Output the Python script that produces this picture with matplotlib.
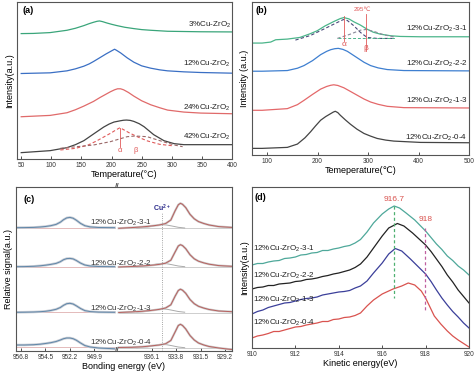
import numpy as np
import matplotlib
matplotlib.use('Agg')
import matplotlib.pyplot as plt
from matplotlib.transforms import blended_transform_factory

plt.rcParams['font.family'] = ['Liberation Sans', 'DejaVu Sans']
plt.rcParams['mathtext.default'] = 'regular'
plt.rcParams['axes.linewidth'] = 0.8
plt.rcParams['axes.edgecolor'] = '#555555'

# ---------------- Panel (a) : H2-TPR ----------------
a_T_3 = [50, 70, 98, 126, 140, 154, 163, 170, 176, 180, 185, 192, 200, 209, 222, 237, 250, 265, 293, 348, 400]
a_I_3 = [378, 378.5, 381, 388, 394, 402, 408, 412, 415, 416, 414, 410, 406, 402, 397, 393, 390, 388, 385, 383.5, 383]
a_T_12 = [50, 98, 126, 140, 154, 163, 170, 181, 191, 198, 203, 205, 208, 215, 226, 237, 250, 265, 280, 293, 320, 348, 400]
a_I_12 = [258, 260, 266, 272, 280, 287, 294, 306, 317, 324, 329, 331, 328, 320, 305, 292, 281, 274, 269, 266, 263, 261, 259]
a_T_24 = [50, 98, 126, 140, 154, 170, 181, 190, 198, 205, 210, 215, 220, 228, 237, 250, 265, 280, 293, 320, 348, 400]
a_I_24 = [128, 132, 140, 149, 160, 174, 186, 195, 203, 209, 212, 212, 209, 201, 190, 176, 164, 155, 148, 142, 139, 137]
a_T_42 = [50, 98, 126, 140, 154, 170, 187, 196, 204, 215, 220, 225, 231, 237, 246, 254, 262, 270, 287, 304, 320, 400]
a_I_42 = [20, 26, 35, 44, 56, 76, 97, 106, 112, 116, 117.5, 118, 117, 114, 107, 98, 86, 74, 56, 47, 44, 44]
a_alpha_T = [115, 140, 160, 175, 190, 200, 207, 214, 220, 230, 245, 260, 280, 300]
a_alpha_I = [28, 33, 42, 55, 70, 80, 88, 95, 89, 79, 66, 55, 45, 41]
a_beta_T = [115, 170, 198, 226, 239, 259, 282, 304, 318]
a_beta_I = [33, 43, 53, 68, 70, 68, 55, 43, 38]
a_labels = ['3%Cu-ZrO$_2$', '12%Cu-ZrO$_2$', '24%Cu-ZrO$_2$', '42%Cu-ZrO$_2$']
a_label_I = [403, 288, 156, 68]
a_xticks = [50, 100, 150, 200, 250, 300, 350, 400]

# ---------------- Panel (b) ----------------
b_T_31 = [72, 90, 107, 117, 140, 165, 185, 199, 215, 232, 245, 252, 262, 272, 284, 298, 310, 324, 345, 364, 404, 500]
b_I_31 = [338, 338, 341, 348, 350, 355, 366, 375, 390, 403, 412, 415, 411, 402, 393, 380, 371, 365, 360, 358, 357, 357]
b_T_22 = [72, 90, 140, 160, 173, 190, 206, 218, 226, 234, 241, 250, 259, 279, 292, 305, 320, 338, 371, 500]
b_I_22 = [253, 253, 255, 262, 270, 285, 303, 313, 318, 321, 322, 319, 313, 293, 280, 270, 263, 258, 255, 254]
b_T_13 = [72, 90, 140, 160, 173, 190, 206, 218, 226, 232, 240, 252, 265, 279, 292, 305, 320, 338, 371, 500]
b_I_13 = [135, 135, 140, 152, 165, 183, 199, 207, 210.5, 212, 210, 203, 192, 180, 169, 160, 153, 147, 143, 142]
b_T_04 = [72, 90, 140, 160, 175, 186, 196, 206, 216, 226, 231, 235, 240, 245, 255, 265, 278, 292, 305, 318, 335, 351, 404, 500]
b_I_04 = [20, 20, 23, 33, 52, 70, 88, 105, 116, 125, 129.5, 132, 128, 120, 106, 93, 78, 65, 57, 50, 45, 42, 38, 37]
b_alpha_T = [156, 186, 212, 232, 251, 259, 272, 285, 298, 318, 351]
b_alpha_I = [347, 361, 380, 395, 409, 406, 390, 370, 355, 352, 352]
b_beta_T = [239, 265, 285, 296, 312, 331, 351]
b_beta_I = [352, 365, 377, 379, 373, 363, 357]
b_base_T = [240, 355]
b_base_I = [352, 352]
b_labels = ['12%Cu-ZrO$_2$-3-1', '12%Cu-ZrO$_2$-2-2', '12%Cu-ZrO$_2$-1-3', '12%Cu-ZrO$_2$-0-4']
b_label_I = [380, 275, 162, 52]
b_xticks = [100, 200, 300, 400, 500]

# ---------------- Panel (c) : XPS Cu 2p ----------------
c_left_E = [957.3, 956.5, 955.6, 955.0, 954.5, 954.0, 953.5, 953.1, 952.8, 952.5, 952.2,
            951.9, 951.6, 951.2, 950.8, 950.3, 949.5, 948.0]
c_left_vals = [
    [0, 0.1, 0.3, 0.7, 1.2, 2.0, 3.3, 5.5, 8.0, 9.8, 10.3, 9.5, 7.5, 4.3, 2.0, 0.8, 0.2, 0],
    [0, 0.1, 0.4, 0.9, 1.5, 2.3, 3.3, 5.0, 7.0, 8.1, 8.3, 7.8, 6.2, 3.6, 1.7, 0.7, 0.2, 0],
    [0, 0.1, 0.3, 0.6, 1.0, 1.8, 3.0, 4.8, 7.0, 8.6, 9.0, 8.3, 6.5, 3.8, 1.7, 0.7, 0.2, 0],
    [2, 2, 2.3, 2.8, 3.5, 4.3, 5.5, 7.0, 8.3, 9.0, 9.0, 8.3, 6.8, 4.0, 1.5, 0, -1.0, -1.8],
]
c_right_E = [939.2, 938.0, 937.0, 936.4, 935.9, 935.4, 934.8, 934.3, 933.9, 933.6, 933.4,
             933.2, 932.9, 932.5, 932.1, 931.7, 931.2, 930.7, 929.8, 928.6]
c_right_vals = [
    [0, 0.7, 1.4, 2.0, 2.6, 3.3, 4.7, 8.3, 17.5, 23.5, 25, 24, 20.7, 14, 9.5, 6.7, 4.8, 3.3, 1.7, 0.9],
    [0, 0.5, 1.0, 1.5, 2.0, 2.6, 3.8, 6.8, 15, 21, 22.3, 21.4, 18.3, 12.3, 8.2, 5.8, 4.1, 2.8, 1.4, 0.7],
    [0, 0.6, 1.2, 1.8, 2.4, 3.1, 4.5, 7.7, 16.3, 22, 23.3, 22.3, 19.2, 13, 8.8, 6.2, 4.4, 3.0, 1.5, 0.8],
    [0.5, 0.7, 1.2, 1.8, 2.4, 3.0, 4.2, 7.5, 16, 22.5, 23.7, 22.5, 19, 12.5, 8, 5, 3, 1.5, 0, -1.5],
]
c_sh_E = [937.5, 936.5, 936.0, 935.5, 935.1, 934.7, 934.2, 933.6, 933.0]
c_sh_vals = [0.3, 1.2, 2.2, 3.2, 3.6, 3.3, 2.3, 1.0, 0.3]
c_off_left = [123.3, 84.3, 38.7, 4]
c_off_right = [122.7, 84.0, 38.5, 3]
c_labels = ['12%Cu-ZrO$_2$-3-1', '12%Cu-ZrO$_2$-2-2', '12%Cu-ZrO$_2$-1-3', '12%Cu-ZrO$_2$-0-4']
c_label_I = [127.7, 87.3, 41.7, 8.3]
c_xticks = [956.8, 954.5, 952.2, 949.9, 936.1, 933.8, 931.5, 929.2]
c_cu2_E = 935.13

# ---------------- Panel (d) : Auger ----------------
d_E_31 = [910.0, 910.25, 910.5, 910.75, 911.0, 911.25, 911.5, 911.75, 912.0, 912.25, 912.5,
          912.75, 913.0, 913.25, 913.5, 913.75, 914.0, 914.25, 914.5, 914.75, 915.0, 915.3,
          915.6, 916.0, 916.3, 916.55, 916.8, 917.1, 917.5, 918.0, 918.25, 918.5, 918.75,
          919.0, 919.25, 919.5, 919.75, 920.0]
d_I_31 = [83, 84.5, 84.5, 86, 87, 87.5, 89.5, 90, 91, 93, 93.5, 95, 95.5, 97.5, 97.5, 99,
          100, 101.5, 102.5, 105, 108.5, 116, 125, 134, 139, 142, 140, 135, 128, 117, 110.5,
          104, 98.5, 92, 87.5, 82, 78, 73]
d_E_22 = [910.0, 910.25, 910.5, 910.75, 911.0, 911.25, 911.5, 911.75, 912.0, 912.25, 912.5,
          912.75, 913.0, 913.25, 913.5, 913.75, 914.0, 914.25, 914.5, 914.75, 915.0, 915.3,
          915.6, 916.0, 916.3, 916.7, 917.0, 917.4, 918.0, 918.25, 918.5, 918.75, 919.0,
          919.25, 919.5, 919.75, 920.0]
d_I_22 = [59, 60.5, 61, 62.5, 62.5, 64, 64.5, 65, 66.5, 67, 68.5, 69, 70, 71.5, 72.5, 74,
          75, 76.5, 78, 80.5, 84, 91, 100, 112, 120, 124.5, 122, 115, 103, 96.5, 89, 81.5,
          73, 66, 58, 51.5, 45]
d_E_13 = [910.0, 910.25, 910.5, 910.75, 911.0, 911.25, 911.5, 911.75, 912.0, 912.25, 912.5,
          912.75, 913.0, 913.25, 913.5, 913.75, 914.0, 914.25, 914.5, 914.75, 915.0, 915.3,
          915.6, 916.0, 916.3, 916.6, 916.9, 917.3, 918.0, 918.25, 918.5, 918.75, 919.0,
          919.25, 919.5, 919.75, 920.0]
d_I_13 = [34, 36.5, 38, 40.5, 42, 43.5, 45, 45.5, 47, 48.5, 49.5, 50, 51, 53, 54, 55, 56,
          56.5, 57.5, 60, 62, 67, 75, 85, 94, 99.5, 97, 89, 74, 66.5, 58, 50, 43, 36.5, 31,
          25, 20]
d_E_04 = [910.0, 910.25, 910.5, 910.75, 911.0, 911.25, 911.5, 911.75, 912.0, 912.25, 912.5,
          912.75, 913.0, 913.25, 913.5, 913.75, 914.0, 914.25, 914.5, 914.75, 915.0, 915.3,
          915.6, 916.0, 916.5, 916.9, 917.2, 917.5, 917.8, 918.0, 918.2, 918.4, 918.7, 919.0,
          919.25, 919.5, 919.75, 920.0]
d_I_04 = [10, 12, 13, 14.5, 16.5, 16.5, 18, 19.5, 21, 21.5, 23, 24, 25, 26.5, 26.5, 28.5,
          29, 30.5, 31, 32.5, 35, 42, 48, 54, 59, 62, 65, 63, 57, 50, 41, 32, 24, 17, 12,
          8, 4.5, 1]
d_labels = ['12%Cu-ZrO$_2$-3-1', '12%Cu-ZrO$_2$-2-2', '12%Cu-ZrO$_2$-1-3', '12%Cu-ZrO$_2$-0-4']
d_label_I = [99, 72, 48, 25]
d_xticks = [910, 912, 914, 916, 918, 920]
d_line1_E = 916.55
d_line2_E = 917.98

# ------------------------------------------------------------
fig = plt.figure(figsize=(4.74, 3.71), dpi=100)
W, H = 474.0, 371.0


def box(l, r, t, b):
    return [l / W, 1 - b / H, (r - l) / W, (b - t) / H]


TICKFS = 4.7
LABFS = 6.5
TXTFS = 5.8


def style(ax):
    ax.tick_params(axis='x', direction='in', length=2, width=0.6, pad=2,
                   labelsize=TICKFS, colors='#333333')
    ax.set_yticks([])
    for s in ax.spines.values():
        s.set_color('#555555')
        s.set_linewidth(0.8)


# ---- (a)
axa = fig.add_axes(box(17, 232, 2, 159.3))
axa.plot(a_T_3, a_I_3, color='#3aa57a', lw=0.9)
axa.plot(a_T_12, a_I_12, color='#3a6fc4', lw=0.9)
axa.plot(a_T_24, a_I_24, color='#e06a6a', lw=0.9)
axa.plot(a_T_42, a_I_42, color='#444444', lw=0.9)
axa.plot(a_alpha_T, a_alpha_I, color='#e05a5a', lw=0.8, ls=(0, (3, 2)))
axa.plot(a_beta_T, a_beta_I, color='#9a6868', lw=0.8, ls=(0, (3, 2)))
axa.plot([214, 214], [95, 38], color='#e05a5a', lw=0.6)
axa.text(214, 25, 'α', color='#e05a5a', fontsize=5.5, ha='center', va='center')
axa.text(240, 25, 'β', color='#e05a5a', fontsize=5.5, ha='center', va='center')
for lab, yy in zip(a_labels, a_label_I):
    axa.text(398, yy, lab, fontsize=TXTFS, ha='right', va='center', color='#222222')
axa.text(52, 448, '(a)', fontsize=6.5, fontweight='bold', va='center')
axa.set_xlim(43, 400)
axa.set_ylim(0, 473)
axa.set_xticks(a_xticks)
axa.set_xlabel('Temperature(°C)', fontsize=LABFS, labelpad=1)
axa.set_ylabel('Intensity(a.u.)', fontsize=LABFS, labelpad=2)
style(axa)

# ---- (b)
axb = fig.add_axes(box(252, 469, 2, 155))
axb.plot(b_T_31, b_I_31, color='#4bb58a', lw=0.9)
axb.plot(b_T_22, b_I_22, color='#3e7fd0', lw=0.9)
axb.plot(b_T_13, b_I_13, color='#e4686a', lw=0.9)
axb.plot(b_T_04, b_I_04, color='#444444', lw=0.9)
axb.plot(b_alpha_T, b_alpha_I, color='#4a4a7a', lw=0.8, ls=(0, (3, 2)))
axb.plot(b_beta_T, b_beta_I, color='#8a8a9a', lw=0.8, ls=(0, (3, 2)))
axb.plot(b_base_T, b_base_I, color='#4bb58a', lw=0.7, ls=(0, (3, 2)))
axb.plot([253, 253], [420, 345], color='#e05a5a', lw=0.6)
axb.plot([296, 296], [425, 315], color='#e05a5a', lw=0.6)
axb.text(253, 335, 'α', color='#e05a5a', fontsize=6, ha='center', va='center')
axb.text(296, 322, 'β', color='#e05a5a', fontsize=6, ha='center', va='center')
axb.text(288, 440, '295℃', color='#e05a5a', fontsize=4.5, ha='center', va='center')
for lab, yy in zip(b_labels, b_label_I):
    axb.text(497, yy, lab, fontsize=TXTFS, ha='right', va='center', color='#222222')
axb.text(77, 435, '(b)', fontsize=6.5, fontweight='bold', va='center')
axb.set_xlim(70, 500)
axb.set_ylim(0, 462)
axb.set_xticks(b_xticks)
axb.set_xlabel('Temeperature(℃)', fontsize=LABFS, labelpad=1)
axb.set_ylabel('Intensity (a.u.)', fontsize=LABFS, labelpad=2)
style(axb)

# ---- (c) broken energy axis via a function scale
B1, B2, EPS = 939.5, 947.92, 1e-3


def fwd(e):
    e = np.asarray(e, dtype=float)
    return np.where(e <= B1, e,
                    np.where(e < B2, B1 + (e - B1) * EPS,
                             B1 + (B2 - B1) * EPS + (e - B2)))


def inv(u):
    u = np.asarray(u, dtype=float)
    g = B1 + (B2 - B1) * EPS
    return np.where(u <= B1, u,
                    np.where(u < g, B1 + (u - B1) / EPS, B2 + (u - g)))


axc = fig.add_axes(box(16, 232, 187, 351))
axc.set_xscale('function', functions=(fwd, inv))
for i in range(4):
    lv = np.array(c_left_vals[i]) + c_off_left[i]
    rv = np.array(c_right_vals[i]) + c_off_right[i]
    sv = np.array(c_sh_vals) + c_off_right[i]
    axc.plot([c_left_E[0], c_left_E[-1]], [c_off_left[i], c_off_left[i]], color='#d9a0a0', lw=0.5)
    axc.plot([c_right_E[0], c_right_E[-1]], [c_off_right[i], c_off_right[i]], color='#bbbbbb', lw=0.5)
    axc.plot(c_left_E, lv, color='#c8ccd4', lw=1.8)
    axc.plot(c_left_E, lv, color='#5f86a8', lw=0.7)
    axc.plot(c_sh_E, sv, color='#aaaaaa', lw=0.7)
    axc.plot(c_right_E, rv, color='#c9c9c9', lw=1.6)
    axc.plot(c_right_E, rv, color='#b8605e', lw=0.7)
trc = blended_transform_factory(axc.transAxes, axc.transData)
for lab, yy in zip(c_labels, c_label_I):
    axc.text(0.485, yy, lab, transform=trc, fontsize=TXTFS, ha='center', va='center',
             color='#333333')
axc.plot([c_cu2_E, c_cu2_E], [0, 137.7], color='#888888', lw=0.6, ls=':')
axc.text(c_cu2_E, 143, 'Cu$^{2+}$', color='#2a2a8a', fontsize=5, ha='center', va='center',
         fontweight='bold')
axc.text(956.6, 151, '(c)', fontsize=6.5, fontweight='bold', va='center')
for yy in (1.0, 0.0):
    axc.text(0.468, yy, '//', transform=axc.transAxes, fontsize=6, ha='center', va='center',
             color='#555555', fontweight='bold')
axc.set_xlim(957.27, 928.55)
axc.set_ylim(0, 164)
axc.set_xticks(c_xticks)
axc.set_xticklabels([f'{v:.1f}' for v in c_xticks])
axc.set_xlabel('Bonding energy (eV)', fontsize=LABFS, labelpad=1)
axc.set_ylabel('Relative signal(a.u.)', fontsize=LABFS, labelpad=2)
style(axc)

# ---- (d)
axd = fig.add_axes(box(252, 469, 187, 348))
axd.plot(d_E_31, d_I_31, color='#4ea89a', lw=0.9)
axd.plot(d_E_22, d_I_22, color='#222222', lw=0.9)
axd.plot(d_E_13, d_I_13, color='#3b3f9a', lw=0.9)
axd.plot(d_E_04, d_I_04, color='#d9534f', lw=0.9)
axd.plot([d_line1_E, d_line1_E], [142, 50], color='#4eb070', lw=0.9, ls=(0, (2.5, 2)))
axd.plot([d_line2_E, d_line2_E], [120, 36], color='#c060a0', lw=0.9, ls=(0, (2.5, 2)))
axd.text(d_line1_E, 149, '916.7', color='#d9534f', fontsize=6, ha='center', va='center')
axd.text(d_line2_E, 129, '918', color='#d9534f', fontsize=6, ha='center', va='center')
for lab, yy in zip(d_labels, d_label_I):
    axd.text(910.05, yy, lab, fontsize=TXTFS, ha='left', va='center', color='#222222')
axd.text(910.1, 151, '(d)', fontsize=6.5, fontweight='bold', va='center')
axd.set_xlim(910, 920)
axd.set_ylim(0, 161)
axd.set_xticks(d_xticks)
axd.set_xlabel('Kinetic energy(eV)', fontsize=LABFS, labelpad=1)
axd.set_ylabel('Intensity(a.u.)', fontsize=LABFS, labelpad=2)
style(axd)

fig.savefig('out.png', dpi=100)
